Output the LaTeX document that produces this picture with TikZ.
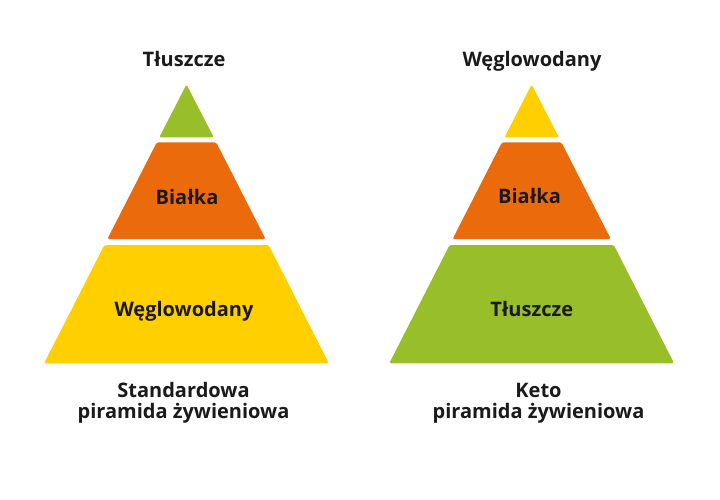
\documentclass[tikz,border=0pt]{standalone}
\usepackage{fontspec}
\setmainfont{Open Sans}

\definecolor{pgreen}{HTML}{98BE2A}
\definecolor{porange}{HTML}{EB6A0C}
\definecolor{pyellow}{HTML}{FFCF00}
\definecolor{ptext}{HTML}{1A1A1A}

\begin{document}
\begin{tikzpicture}[x=1pt, y=-1pt,
    band/.style={rounded corners=1.5pt},
    label/.style={anchor=base, inner sep=0pt, text=ptext, font=\fontsize{20}{21}\selectfont\bfseries, align=center}]

\useasboundingbox (0,0) rectangle (720,500);

% Create the two pyramids: centre x and colours of the three bands (top to bottom)
\foreach \cx/\ca/\cb/\cc in {186.5/pgreen/porange/pyellow, 531.7/pyellow/porange/pgreen} {
    % top band
    \fill[band, \ca] (\cx,84.5) -- (\cx+27.3,137.5) -- (\cx-27.3,137.5) -- cycle;
    % middle band
    \fill[band, \cb] (\cx-29.8,142.5) -- (\cx+29.8,142.5) -- (\cx+79.1,239) -- (\cx-79.1,239) -- cycle;
    % bottom band
    \fill[band, \cc] (\cx-82.1,245) -- (\cx+82.1,245) -- (\cx+142.4,363.3) -- (\cx-142.4,363.3) -- cycle;
}

% Heres the labels of the standard pyramid
\node[label] (stdtop) at (184,66.7) {Tłuszcze};
\node[label] (stdmid) at (187,204) {Białka};
\node[label] (stdbot) at (184,316) {Węglowodany};
% (base of a two-line node sits on its last line)
\node[label] (stdname) at (183.5,418.5) {Standardowa\\piramida żywieniowa};

% and the keto pyramid
\node[label] (ketotop) at (532,66.7) {Węglowodany};
\node[label] (ketomid) at (529.5,203.5) {Białka};
\node[label] (ketobot) at (531.7,316.7) {Tłuszcze};
\node[label] (ketoname) at (538.5,418.5) {Keto\\piramida żywieniowa};
\end{tikzpicture}
\end{document}
